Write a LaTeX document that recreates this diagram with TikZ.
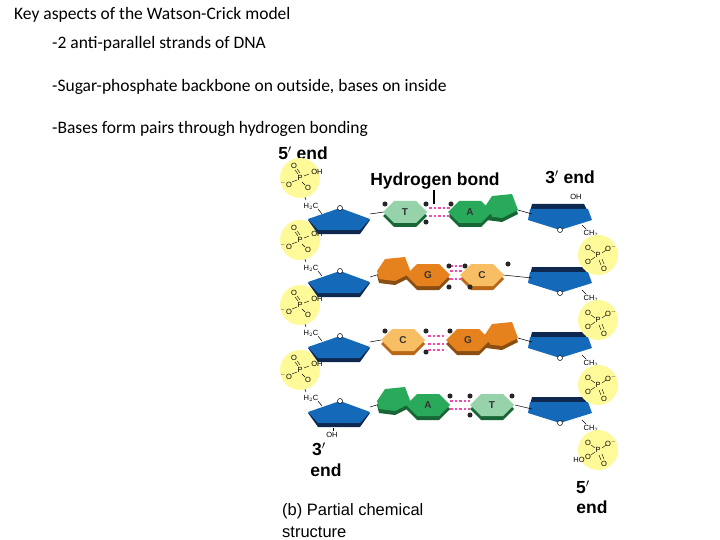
\documentclass[tikz,border=0pt]{standalone}
\usepackage{fontspec}
\setmainfont{Carlito}
\newfontfamily\arial{Liberation Sans}
\begin{document}
\begin{tikzpicture}[x=1pt,y=-1pt,
  body/.style={font=\fontsize{17.5}{19}\selectfont,anchor=west,inner sep=0},
  lab/.style={font=\arial\bfseries\fontsize{17.5}{19}\selectfont,inner sep=0},
  captxt/.style={font=\arial\fontsize{16.5}{19}\selectfont,anchor=west,inner sep=0},
  tiny/.style={font=\arial\fontsize{7.5}{8}\selectfont,inner sep=0},
  phos/.style={fill=yellow!40,draw=none},
  bond/.style={magenta!70,line width=2pt,dash pattern=on 2.5pt off 2pt},
  dot/.style={circle,fill=black!85,inner sep=1.8pt}]
\useasboundingbox (0,0) rectangle (720,540);
\definecolor{sblue}{RGB}{20,105,185}
\definecolor{sdark}{RGB}{15,40,80}
\definecolor{lgreen}{RGB}{150,210,170}
\definecolor{dgreen}{RGB}{40,170,90}
\definecolor{dorange}{RGB}{230,130,30}
\definecolor{lorange}{RGB}{248,190,100}
\node[body] (t1) at (14,15) {Key aspects of the Watson-Crick model};
\node[body] (t2) at (52,44) {-2 anti-parallel strands of DNA};
\node[body] (t3) at (52,87) {-Sugar-phosphate backbone on outside, bases on inside};
\node[body] (t4) at (52,129) {-Bases form pairs through hydrogen bonding};
\node[lab] (e5a) at (303,153) {5$'$ end};
\node[lab] (hb) at (435,181) {Hydrogen bond};
\node[lab] (e3a) at (570,177) {3$'$ end};
\node[lab] (e3b) at (319,449) {3$'$};
\node[lab] (e3c) at (326,470) {end};
\node[lab] (e5b) at (583,487) {5$'$};
\node[lab] (e5c) at (592,507) {end};
\node[captxt] (c1) at (282,511) {(b) Partial chemical};
\node[captxt] (c2) at (282,532) {structure};
\draw[line width=1.2pt] (434,190) -- (434,204);
\newcommand{\lphos}[2]{%
  \fill[phos] (#1,#2) circle (20);
  \node[tiny] at (#1,#2) {P};
  \node[tiny] at (#1-6,#2-12) {O};
  \draw[line width=.4pt] (#1-5,#2-8)--(#1-2,#2-4) (#1-3,#2-9)--(#1,#2-5);
  \node[tiny] at (#1-14,#2+6) {$^-$O};
  \node[tiny] at (#1+17,#2-6) {OH};
  \node[tiny] at (#1+8,#2+10) {O};
  \draw[line width=.4pt] (#1-3,#2+2)--(#1-8,#2+4) (#1+4,#2-2)--(#1+9,#2-4) (#1+2,#2+4)--(#1+5,#2+7);}
\newcommand{\rphos}[2]{%
  \fill[phos] (#1,#2) circle (20);
  \node[tiny] at (#1,#2) {P};
  \node[tiny] at (#1-10,#2-7) {O};
  \node[tiny] at (#1+13,#2-7) {O$^-$};
  \node[tiny] at (#1-10,#2+7) {O};
  \node[tiny] at (#1+6,#2+14) {O};
  \draw[line width=.4pt] (#1-3,#2-2)--(#1-7,#2-5) (#1+4,#2-2)--(#1+8,#2-5) (#1-3,#2+2)--(#1-7,#2+5) (#1+1,#2+5)--(#1+3,#2+10) (#1+4,#2+4)--(#1+6,#2+9);}
\newcommand{\lsugar}[2]{%
  \fill[sdark] (#1-32,#2) -- (#1+30,#2) -- (#1+20,#2+14) -- (#1-22,#2+14) -- cycle;
  \fill[sblue] (#1-32,#2-1) -- (#1,#2-12) -- (#1+30,#2-1) -- (#1+20,#2+10) -- (#1-22,#2+10) -- cycle;
  \fill[white] (#1,#2-12) circle (2.5); \draw[line width=.5pt] (#1,#2-12) circle (2.5);}
\newcommand{\rsugar}[2]{%
  \fill[sdark] (#1-28,#2-14) -- (#1+24,#2-14) -- (#1+28,#2-6) -- (#1-30,#2-6) -- cycle;
  \fill[sblue] (#1-30,#2-9) -- (#1+28,#2-9) -- (#1+32,#2+2) -- (#1,#2+12) -- (#1-32,#2+2) -- cycle;
  \fill[white] (#1,#2+12) circle (2.5); \draw[line width=.5pt] (#1,#2+12) circle (2.5);}
\newcommand{\hexb}[5]{%
  \fill[#4] (#1-22,#2+4) -- (#1-11,#2+15) -- (#1+11,#2+15) -- (#1+22,#2+4) -- (#1+11,#2-7) -- (#1-11,#2-7) -- cycle;
  \fill[#3] (#1-22,#2) -- (#1-11,#2+11) -- (#1+11,#2+11) -- (#1+22,#2) -- (#1+11,#2-11) -- (#1-11,#2-11) -- cycle;
  \node[font=\arial\bfseries\fontsize{10}{11}\selectfont,inner sep=0,text=black!80] at (#1,#2) {#5};}
\newcommand{\pentb}[4]{%
  \fill[#4] (#1-16,#2+4) -- (#1-8,#2-8) -- (#1+12,#2-10) -- (#1+18,#2+6) -- (#1+2,#2+14) -- (#1-14,#2+12) -- cycle;
  \fill[#3] (#1-16,#2) -- (#1-8,#2-12) -- (#1+12,#2-14) -- (#1+18,#2+2) -- (#1+2,#2+10) -- (#1-14,#2+8) -- cycle;}
\newcommand{\hbonds}[3]{%
  \draw[bond] (#1,#3-4) -- (#2,#3-4);
  \draw[bond] (#1,#3+4) -- (#2,#3+4);}
% backbone
\foreach \y in {178,240,305,370} {
  \draw[line width=.5pt] (304,\y+16) -- (306,\y+22);
  \draw[line width=.5pt] (318,\y+31) -- (322,\y+36);
  \lphos{300}{\y}
  \node[tiny] at (311,\y+28) {H$_2$C};}
\foreach \y in {212,275,340,405} {\lsugar{340}{\y+8}}
\foreach \y in {212,275,340,405} {\rsugar{560}{\y+6}}
\foreach \y in {255,320,385,450} {
  \draw[line width=.5pt] (582,\y-30) -- (586,\y-26) (590,\y-16)--(592,\y-13);
  \node[tiny] at (591,\y-22) {CH$_2$};
  \rphos{598}{\y}}
\node[tiny] at (576,197) {OH};
\node[tiny] at (332,435) {OH};
\draw[line width=.5pt] (333,428)--(333,431);
\node[tiny] at (579,460) {HO};
% row 1
\draw[line width=.5pt] (370,214)--(384,212) (518,210)--(532,214);
\hexb{405}{212}{lgreen}{dgreen!60!black}{T}
\pentb{500}{208}{dgreen}{dgreen!60!black}
\hexb{470}{212}{dgreen}{dgreen!60!black}{A}
\hbonds{429}{450}{212}
\node[dot] at (385,204) {}; \node[dot] at (426,204) {}; \node[dot] at (426,222) {}; \node[dot] at (451,204) {};
% row 2
\draw[line width=.5pt] (370,277)--(380,274) (503,275)--(532,278);
\pentb{393}{271}{dorange}{dorange!60!black}
\hexb{428}{275}{dorange}{dorange!60!black}{G}
\hexb{482}{275}{lorange}{dorange!80!black}{C}
\hbonds{450}{462}{275}
\draw[bond] (450,266)--(462,266);
\node[dot] at (449,266) {}; \node[dot] at (449,287) {}; \node[dot] at (465,266) {};
\node[dot] at (470,287) {}; \node[dot] at (508,264) {};
% row 3
\draw[line width=.5pt] (370,342)--(381,340) (518,338)--(532,342);
\hexb{403}{340}{lorange}{dorange!80!black}{C}
\pentb{500}{336}{dorange}{dorange!60!black}
\hexb{468}{340}{dorange}{dorange!60!black}{G}
\hbonds{428}{446}{340}
\draw[bond] (428,350)--(446,350);
\node[dot] at (385,331) {}; \node[dot] at (426,331) {}; \node[dot] at (426,352) {}; \node[dot] at (450,331) {};
% row 4
\draw[line width=.5pt] (370,407)--(380,404) (515,405)--(532,409);
\pentb{393}{401}{dgreen}{dgreen!60!black}
\hexb{428}{405}{dgreen}{dgreen!60!black}{A}
\hexb{492}{405}{lgreen}{dgreen!60!black}{T}
\hbonds{450}{470}{405}
\node[dot] at (450,396) {}; \node[dot] at (470,396) {}; \node[dot] at (512,396) {}; \node[dot] at (470,415) {};
\end{tikzpicture}
\end{document}
